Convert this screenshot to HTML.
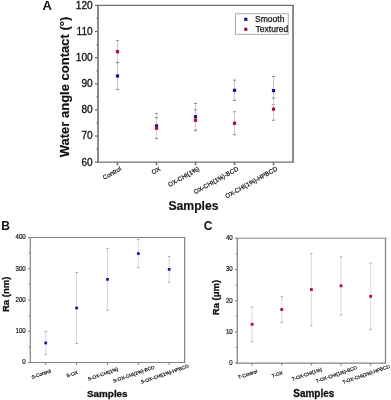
<!DOCTYPE html>
<html><head><meta charset="utf-8"><style>
html,body{margin:0;padding:0;background:#fff;width:391px;height:400px;overflow:hidden}
svg{display:block;font-family:"Liberation Sans", sans-serif;filter:blur(0.3px)}
</style></head><body>
<svg width="391" height="400" viewBox="0 0 391 400">
<path d="M97.2 5.4H293.8M97.2 162.2H293.8" stroke="#707070" stroke-width="1.25" fill="none"/>
<path d="M98 5.4V162.2M293 5.4V162.2" stroke="#707070" stroke-width="1.6" fill="none"/>
<line x1="95" y1="162.20" x2="98" y2="162.20" stroke="#707070" stroke-width="1.25"/>
<text x="92.7" y="165.53" font-size="10.1" text-anchor="end" fill="#111" stroke="#111" stroke-width="0.3">60</text>
<line x1="95" y1="136.07" x2="98" y2="136.07" stroke="#707070" stroke-width="1.25"/>
<text x="92.7" y="139.40" font-size="10.1" text-anchor="end" fill="#111" stroke="#111" stroke-width="0.3">70</text>
<line x1="95" y1="109.93" x2="98" y2="109.93" stroke="#707070" stroke-width="1.25"/>
<text x="92.7" y="113.27" font-size="10.1" text-anchor="end" fill="#111" stroke="#111" stroke-width="0.3">80</text>
<line x1="95" y1="83.80" x2="98" y2="83.80" stroke="#707070" stroke-width="1.25"/>
<text x="92.7" y="87.13" font-size="10.1" text-anchor="end" fill="#111" stroke="#111" stroke-width="0.3">90</text>
<line x1="95" y1="57.67" x2="98" y2="57.67" stroke="#707070" stroke-width="1.25"/>
<text x="92.7" y="61.00" font-size="10.1" text-anchor="end" fill="#111" stroke="#111" stroke-width="0.3">100</text>
<line x1="95" y1="31.53" x2="98" y2="31.53" stroke="#707070" stroke-width="1.25"/>
<text x="92.7" y="34.87" font-size="10.1" text-anchor="end" fill="#111" stroke="#111" stroke-width="0.3">110</text>
<line x1="95" y1="5.40" x2="98" y2="5.40" stroke="#707070" stroke-width="1.25"/>
<text x="92.7" y="8.73" font-size="10.1" text-anchor="end" fill="#111" stroke="#111" stroke-width="0.3">120</text>
<line x1="96.5" y1="149.13" x2="98" y2="149.13" stroke="#707070" stroke-width="1.25"/>
<line x1="96.5" y1="123.00" x2="98" y2="123.00" stroke="#707070" stroke-width="1.25"/>
<line x1="96.5" y1="96.87" x2="98" y2="96.87" stroke="#707070" stroke-width="1.25"/>
<line x1="96.5" y1="70.73" x2="98" y2="70.73" stroke="#707070" stroke-width="1.25"/>
<line x1="96.5" y1="44.60" x2="98" y2="44.60" stroke="#707070" stroke-width="1.25"/>
<line x1="96.5" y1="18.47" x2="98" y2="18.47" stroke="#707070" stroke-width="1.25"/>
<line x1="117.50" y1="162.2" x2="117.50" y2="165.2" stroke="#707070" stroke-width="1.6"/>
<text transform="translate(121.80,170.20) rotate(-29)" font-size="6.2" text-anchor="end" fill="#111" stroke="#111" stroke-width="0.2">Control</text>
<line x1="156.50" y1="162.2" x2="156.50" y2="165.2" stroke="#707070" stroke-width="1.6"/>
<text transform="translate(160.80,170.20) rotate(-29)" font-size="6.2" text-anchor="end" fill="#111" stroke="#111" stroke-width="0.2">OX</text>
<line x1="195.50" y1="162.2" x2="195.50" y2="165.2" stroke="#707070" stroke-width="1.6"/>
<text transform="translate(199.80,170.20) rotate(-29)" font-size="6.2" text-anchor="end" fill="#111" stroke="#111" stroke-width="0.2">OX-CHI(1%)</text>
<line x1="234.50" y1="162.2" x2="234.50" y2="165.2" stroke="#707070" stroke-width="1.6"/>
<text transform="translate(238.80,170.20) rotate(-29)" font-size="6.2" text-anchor="end" fill="#111" stroke="#111" stroke-width="0.2">OX-CHI(1%)-BCD</text>
<line x1="273.50" y1="162.2" x2="273.50" y2="165.2" stroke="#707070" stroke-width="1.6"/>
<text transform="translate(277.80,170.20) rotate(-29)" font-size="6.2" text-anchor="end" fill="#111" stroke="#111" stroke-width="0.2">OX-CHI(1%)-HPBCD</text>
<line x1="117.50" y1="62.37" x2="117.50" y2="89.55" stroke="#c4c4d4" stroke-width="1.0"/>
<line x1="116.00" y1="62.37" x2="119.00" y2="62.37" stroke="#8a8a8a" stroke-width="1"/>
<line x1="116.00" y1="89.55" x2="119.00" y2="89.55" stroke="#8a8a8a" stroke-width="1"/>
<line x1="117.50" y1="40.68" x2="117.50" y2="62.63" stroke="#dcc4cc" stroke-width="1.0"/>
<line x1="116.00" y1="40.68" x2="119.00" y2="40.68" stroke="#8a8a8a" stroke-width="1"/>
<line x1="116.00" y1="62.63" x2="119.00" y2="62.63" stroke="#8a8a8a" stroke-width="1"/>
<line x1="156.50" y1="113.33" x2="156.50" y2="138.42" stroke="#c4c4d4" stroke-width="1.0"/>
<line x1="155.00" y1="113.33" x2="158.00" y2="113.33" stroke="#8a8a8a" stroke-width="1"/>
<line x1="155.00" y1="138.42" x2="158.00" y2="138.42" stroke="#8a8a8a" stroke-width="1"/>
<line x1="156.50" y1="117.77" x2="156.50" y2="138.68" stroke="#dcc4cc" stroke-width="1.0"/>
<line x1="155.00" y1="117.77" x2="158.00" y2="117.77" stroke="#8a8a8a" stroke-width="1"/>
<line x1="155.00" y1="138.68" x2="158.00" y2="138.68" stroke="#8a8a8a" stroke-width="1"/>
<line x1="195.50" y1="103.40" x2="195.50" y2="130.06" stroke="#c4c4d4" stroke-width="1.0"/>
<line x1="194.00" y1="103.40" x2="197.00" y2="103.40" stroke="#8a8a8a" stroke-width="1"/>
<line x1="194.00" y1="130.06" x2="197.00" y2="130.06" stroke="#8a8a8a" stroke-width="1"/>
<line x1="195.50" y1="109.80" x2="195.50" y2="130.71" stroke="#dcc4cc" stroke-width="1.0"/>
<line x1="194.00" y1="109.80" x2="197.00" y2="109.80" stroke="#8a8a8a" stroke-width="1"/>
<line x1="194.00" y1="130.71" x2="197.00" y2="130.71" stroke="#8a8a8a" stroke-width="1"/>
<line x1="234.50" y1="80.14" x2="234.50" y2="100.53" stroke="#c4c4d4" stroke-width="1.0"/>
<line x1="233.00" y1="80.14" x2="236.00" y2="80.14" stroke="#8a8a8a" stroke-width="1"/>
<line x1="233.00" y1="100.53" x2="236.00" y2="100.53" stroke="#8a8a8a" stroke-width="1"/>
<line x1="234.50" y1="111.76" x2="234.50" y2="134.76" stroke="#dcc4cc" stroke-width="1.0"/>
<line x1="233.00" y1="111.76" x2="236.00" y2="111.76" stroke="#8a8a8a" stroke-width="1"/>
<line x1="233.00" y1="134.76" x2="236.00" y2="134.76" stroke="#8a8a8a" stroke-width="1"/>
<line x1="273.50" y1="76.48" x2="273.50" y2="104.71" stroke="#c4c4d4" stroke-width="1.0"/>
<line x1="272.00" y1="76.48" x2="275.00" y2="76.48" stroke="#8a8a8a" stroke-width="1"/>
<line x1="272.00" y1="104.71" x2="275.00" y2="104.71" stroke="#8a8a8a" stroke-width="1"/>
<line x1="273.50" y1="98.04" x2="273.50" y2="120.26" stroke="#dcc4cc" stroke-width="1.0"/>
<line x1="272.00" y1="98.04" x2="275.00" y2="98.04" stroke="#8a8a8a" stroke-width="1"/>
<line x1="272.00" y1="120.26" x2="275.00" y2="120.26" stroke="#8a8a8a" stroke-width="1"/>
<rect x="115.90" y="74.36" width="3.2" height="3.2" fill="#12129c"/>
<rect x="115.90" y="50.06" width="3.2" height="3.2" fill="#b0102a"/>
<rect x="154.90" y="124.27" width="3.2" height="3.2" fill="#12129c"/>
<rect x="154.90" y="126.63" width="3.2" height="3.2" fill="#b0102a"/>
<rect x="193.90" y="115.13" width="3.2" height="3.2" fill="#12129c"/>
<rect x="193.90" y="118.66" width="3.2" height="3.2" fill="#b0102a"/>
<rect x="232.90" y="88.73" width="3.2" height="3.2" fill="#12129c"/>
<rect x="232.90" y="121.66" width="3.2" height="3.2" fill="#b0102a"/>
<rect x="271.90" y="88.99" width="3.2" height="3.2" fill="#12129c"/>
<rect x="271.90" y="107.55" width="3.2" height="3.2" fill="#b0102a"/>
<text transform="translate(69,87) rotate(-90)" font-size="13" font-weight="bold" text-anchor="middle" fill="#111" stroke="#111" stroke-width="0.15">Water angle contact (°)</text>
<text x="193.5" y="210.4" font-size="12.2" font-weight="bold" text-anchor="middle" fill="#111" stroke="#111" stroke-width="0.15">Samples</text>
<text x="42.6" y="10" font-size="13" font-weight="bold" fill="#111">A</text>
<rect x="235.5" y="13.8" width="52.7" height="20.5" fill="#fff" stroke="#999" stroke-width="0.8"/>
<rect x="244.2" y="17.7" width="3.2" height="3.2" fill="#12129c"/>
<rect x="244.2" y="27.7" width="3.2" height="3.2" fill="#b0102a"/>
<text x="255" y="22.3" font-size="9.3" textLength="29.4" lengthAdjust="spacingAndGlyphs" fill="#111" stroke="#111" stroke-width="0.25">Smooth</text>
<text x="255.6" y="32.3" font-size="9.3" textLength="32.6" lengthAdjust="spacingAndGlyphs" fill="#111" stroke="#111" stroke-width="0.25">Textured</text>
<path d="M29.5 237.5H185.4M29.5 362.5H185.4" stroke="#858585" stroke-width="1.1" fill="none"/>
<path d="M30.3 237.5V362.5M184.6 237.5V362.5" stroke="#858585" stroke-width="1.25" fill="none"/>
<line x1="28.0" y1="362.50" x2="30.3" y2="362.50" stroke="#858585" stroke-width="1.1"/>
<text x="25.700000000000003" y="364.43" font-size="6.9" text-anchor="end" fill="#111" stroke="#111" stroke-width="0.2" textLength="3.40" lengthAdjust="spacingAndGlyphs">0</text>
<line x1="28.0" y1="331.25" x2="30.3" y2="331.25" stroke="#858585" stroke-width="1.1"/>
<text x="25.700000000000003" y="333.18" font-size="6.9" text-anchor="end" fill="#111" stroke="#111" stroke-width="0.2" textLength="10.20" lengthAdjust="spacingAndGlyphs">100</text>
<line x1="28.0" y1="300.00" x2="30.3" y2="300.00" stroke="#858585" stroke-width="1.1"/>
<text x="25.700000000000003" y="301.93" font-size="6.9" text-anchor="end" fill="#111" stroke="#111" stroke-width="0.2" textLength="10.20" lengthAdjust="spacingAndGlyphs">200</text>
<line x1="28.0" y1="268.75" x2="30.3" y2="268.75" stroke="#858585" stroke-width="1.1"/>
<text x="25.700000000000003" y="270.68" font-size="6.9" text-anchor="end" fill="#111" stroke="#111" stroke-width="0.2" textLength="10.20" lengthAdjust="spacingAndGlyphs">300</text>
<line x1="28.0" y1="237.50" x2="30.3" y2="237.50" stroke="#858585" stroke-width="1.1"/>
<text x="25.700000000000003" y="239.43" font-size="6.9" text-anchor="end" fill="#111" stroke="#111" stroke-width="0.2" textLength="10.20" lengthAdjust="spacingAndGlyphs">400</text>
<line x1="28.8" y1="346.88" x2="30.3" y2="346.88" stroke="#858585" stroke-width="1.1"/>
<line x1="28.8" y1="315.62" x2="30.3" y2="315.62" stroke="#858585" stroke-width="1.1"/>
<line x1="28.8" y1="284.38" x2="30.3" y2="284.38" stroke="#858585" stroke-width="1.1"/>
<line x1="28.8" y1="253.12" x2="30.3" y2="253.12" stroke="#858585" stroke-width="1.1"/>
<line x1="45.73" y1="362.5" x2="45.73" y2="364.8" stroke="#858585" stroke-width="1.25"/>
<text transform="translate(41.23,374.00) rotate(-19)" y="1.68" font-size="4.8" text-anchor="middle" fill="#111" stroke="#111" stroke-width="0.2">S-Control</text>
<line x1="76.59" y1="362.5" x2="76.59" y2="364.8" stroke="#858585" stroke-width="1.25"/>
<text transform="translate(72.09,374.00) rotate(-19)" y="1.68" font-size="4.8" text-anchor="middle" fill="#111" stroke="#111" stroke-width="0.2">S-OX</text>
<line x1="107.45" y1="362.5" x2="107.45" y2="364.8" stroke="#858585" stroke-width="1.25"/>
<text transform="translate(102.95,374.00) rotate(-19)" y="1.68" font-size="4.8" text-anchor="middle" fill="#111" stroke="#111" stroke-width="0.2">S-OX-CHI(1%)</text>
<line x1="138.31" y1="362.5" x2="138.31" y2="364.8" stroke="#858585" stroke-width="1.25"/>
<text transform="translate(133.81,374.00) rotate(-19)" y="1.68" font-size="4.8" text-anchor="middle" fill="#111" stroke="#111" stroke-width="0.2">S-OX-CHI(1%)-BCD</text>
<line x1="169.17" y1="362.5" x2="169.17" y2="364.8" stroke="#858585" stroke-width="1.25"/>
<text transform="translate(164.67,374.00) rotate(-19)" y="1.68" font-size="4.8" text-anchor="middle" fill="#111" stroke="#111" stroke-width="0.2">S-OX-CHI(1%)-HPBCD</text>
<line x1="45.73" y1="331.41" x2="45.73" y2="354.53" stroke="#c8c8e8" stroke-width="0.8"/>
<line x1="44.63" y1="331.41" x2="46.83" y2="331.41" stroke="#a0a0a0" stroke-width="1"/>
<line x1="44.63" y1="354.53" x2="46.83" y2="354.53" stroke="#a0a0a0" stroke-width="1"/>
<line x1="76.59" y1="272.50" x2="76.59" y2="343.50" stroke="#c8c8e8" stroke-width="0.8"/>
<line x1="75.49" y1="272.50" x2="77.69" y2="272.50" stroke="#a0a0a0" stroke-width="1"/>
<line x1="75.49" y1="343.50" x2="77.69" y2="343.50" stroke="#a0a0a0" stroke-width="1"/>
<line x1="107.45" y1="248.44" x2="107.45" y2="310.31" stroke="#c8c8e8" stroke-width="0.8"/>
<line x1="106.35" y1="248.44" x2="108.55" y2="248.44" stroke="#a0a0a0" stroke-width="1"/>
<line x1="106.35" y1="310.31" x2="108.55" y2="310.31" stroke="#a0a0a0" stroke-width="1"/>
<line x1="138.31" y1="239.53" x2="138.31" y2="267.66" stroke="#c8c8e8" stroke-width="0.8"/>
<line x1="137.21" y1="239.53" x2="139.41" y2="239.53" stroke="#a0a0a0" stroke-width="1"/>
<line x1="137.21" y1="267.66" x2="139.41" y2="267.66" stroke="#a0a0a0" stroke-width="1"/>
<line x1="169.17" y1="256.56" x2="169.17" y2="282.19" stroke="#c8c8e8" stroke-width="0.8"/>
<line x1="168.07" y1="256.56" x2="170.27" y2="256.56" stroke="#a0a0a0" stroke-width="1"/>
<line x1="168.07" y1="282.19" x2="170.27" y2="282.19" stroke="#a0a0a0" stroke-width="1"/>
<rect x="44.38" y="341.62" width="2.7" height="2.7" fill="#12129c"/>
<rect x="75.24" y="306.65" width="2.7" height="2.7" fill="#12129c"/>
<rect x="106.10" y="278.02" width="2.7" height="2.7" fill="#12129c"/>
<rect x="136.96" y="252.24" width="2.7" height="2.7" fill="#12129c"/>
<rect x="167.82" y="268.02" width="2.7" height="2.7" fill="#12129c"/>
<text transform="translate(9,294.3) rotate(-90)" font-size="9.5" font-weight="bold" text-anchor="middle" fill="#111" stroke="#111" stroke-width="0.3">Ra (nm)</text>
<text x="107.3" y="396.7" font-size="9.9" font-weight="bold" text-anchor="middle" fill="#111" stroke="#111" stroke-width="0.3">Samples</text>
<text x="1.2" y="230.2" font-size="12" font-weight="bold" fill="#111">B</text>
<path d="M236.5 238.3H386.3M236.5 363.1H386.3" stroke="#858585" stroke-width="1.1" fill="none"/>
<path d="M237.3 238.3V363.1M385.5 238.3V363.1" stroke="#858585" stroke-width="1.25" fill="none"/>
<line x1="235.0" y1="363.10" x2="237.3" y2="363.10" stroke="#858585" stroke-width="1.1"/>
<text x="232.70000000000002" y="365.03" font-size="6.9" text-anchor="end" fill="#111" stroke="#111" stroke-width="0.2" textLength="3.40" lengthAdjust="spacingAndGlyphs">0</text>
<line x1="235.0" y1="331.90" x2="237.3" y2="331.90" stroke="#858585" stroke-width="1.1"/>
<text x="232.70000000000002" y="333.83" font-size="6.9" text-anchor="end" fill="#111" stroke="#111" stroke-width="0.2" textLength="6.80" lengthAdjust="spacingAndGlyphs">10</text>
<line x1="235.0" y1="300.70" x2="237.3" y2="300.70" stroke="#858585" stroke-width="1.1"/>
<text x="232.70000000000002" y="302.63" font-size="6.9" text-anchor="end" fill="#111" stroke="#111" stroke-width="0.2" textLength="6.80" lengthAdjust="spacingAndGlyphs">20</text>
<line x1="235.0" y1="269.50" x2="237.3" y2="269.50" stroke="#858585" stroke-width="1.1"/>
<text x="232.70000000000002" y="271.43" font-size="6.9" text-anchor="end" fill="#111" stroke="#111" stroke-width="0.2" textLength="6.80" lengthAdjust="spacingAndGlyphs">30</text>
<line x1="235.0" y1="238.30" x2="237.3" y2="238.30" stroke="#858585" stroke-width="1.1"/>
<text x="232.70000000000002" y="240.23" font-size="6.9" text-anchor="end" fill="#111" stroke="#111" stroke-width="0.2" textLength="6.80" lengthAdjust="spacingAndGlyphs">40</text>
<line x1="235.8" y1="347.50" x2="237.3" y2="347.50" stroke="#858585" stroke-width="1.1"/>
<line x1="235.8" y1="316.30" x2="237.3" y2="316.30" stroke="#858585" stroke-width="1.1"/>
<line x1="235.8" y1="285.10" x2="237.3" y2="285.10" stroke="#858585" stroke-width="1.1"/>
<line x1="235.8" y1="253.90" x2="237.3" y2="253.90" stroke="#858585" stroke-width="1.1"/>
<line x1="252.12" y1="363.1" x2="252.12" y2="365.40000000000003" stroke="#858585" stroke-width="1.25"/>
<text transform="translate(247.62,374.30) rotate(-19)" y="1.68" font-size="4.8" text-anchor="middle" fill="#111" stroke="#111" stroke-width="0.2">T-Control</text>
<line x1="281.76" y1="363.1" x2="281.76" y2="365.40000000000003" stroke="#858585" stroke-width="1.25"/>
<text transform="translate(277.26,374.30) rotate(-19)" y="1.68" font-size="4.8" text-anchor="middle" fill="#111" stroke="#111" stroke-width="0.2">T-OX</text>
<line x1="311.40" y1="363.1" x2="311.40" y2="365.40000000000003" stroke="#858585" stroke-width="1.25"/>
<text transform="translate(306.90,374.30) rotate(-19)" y="1.68" font-size="4.8" text-anchor="middle" fill="#111" stroke="#111" stroke-width="0.2">T-OX-CHI(1%)</text>
<line x1="341.04" y1="363.1" x2="341.04" y2="365.40000000000003" stroke="#858585" stroke-width="1.25"/>
<text transform="translate(336.54,374.30) rotate(-19)" y="1.68" font-size="4.8" text-anchor="middle" fill="#111" stroke="#111" stroke-width="0.2">T-OX-CHI(1%)-BCD</text>
<line x1="370.68" y1="363.1" x2="370.68" y2="365.40000000000003" stroke="#858585" stroke-width="1.25"/>
<text transform="translate(366.18,374.30) rotate(-19)" y="1.68" font-size="4.8" text-anchor="middle" fill="#111" stroke="#111" stroke-width="0.2">T-OX-CHI(1%)-HPBCD</text>
<line x1="252.12" y1="307.13" x2="252.12" y2="341.45" stroke="#e4c8cc" stroke-width="0.8"/>
<line x1="251.02" y1="307.13" x2="253.22" y2="307.13" stroke="#a0a0a0" stroke-width="1"/>
<line x1="251.02" y1="341.45" x2="253.22" y2="341.45" stroke="#a0a0a0" stroke-width="1"/>
<line x1="281.76" y1="296.58" x2="281.76" y2="322.48" stroke="#e4c8cc" stroke-width="0.8"/>
<line x1="280.66" y1="296.58" x2="282.86" y2="296.58" stroke="#a0a0a0" stroke-width="1"/>
<line x1="280.66" y1="322.48" x2="282.86" y2="322.48" stroke="#a0a0a0" stroke-width="1"/>
<line x1="311.40" y1="253.37" x2="311.40" y2="325.75" stroke="#e4c8cc" stroke-width="0.8"/>
<line x1="310.30" y1="253.37" x2="312.50" y2="253.37" stroke="#a0a0a0" stroke-width="1"/>
<line x1="310.30" y1="325.75" x2="312.50" y2="325.75" stroke="#a0a0a0" stroke-width="1"/>
<line x1="341.04" y1="256.83" x2="341.04" y2="314.86" stroke="#e4c8cc" stroke-width="0.8"/>
<line x1="339.94" y1="256.83" x2="342.14" y2="256.83" stroke="#a0a0a0" stroke-width="1"/>
<line x1="339.94" y1="314.86" x2="342.14" y2="314.86" stroke="#a0a0a0" stroke-width="1"/>
<line x1="370.68" y1="263.10" x2="370.68" y2="329.56" stroke="#e4c8cc" stroke-width="0.8"/>
<line x1="369.58" y1="263.10" x2="371.78" y2="263.10" stroke="#a0a0a0" stroke-width="1"/>
<line x1="369.58" y1="329.56" x2="371.78" y2="329.56" stroke="#a0a0a0" stroke-width="1"/>
<rect x="250.72" y="322.89" width="2.8" height="2.8" fill="#b0102a"/>
<rect x="280.36" y="308.13" width="2.8" height="2.8" fill="#b0102a"/>
<rect x="310.00" y="288.16" width="2.8" height="2.8" fill="#b0102a"/>
<rect x="339.64" y="284.45" width="2.8" height="2.8" fill="#b0102a"/>
<rect x="369.28" y="294.93" width="2.8" height="2.8" fill="#b0102a"/>
<text transform="translate(219,297.5) rotate(-90)" font-size="9.5" font-weight="bold" text-anchor="middle" fill="#111" stroke="#111" stroke-width="0.3">Ra (μm)</text>
<text x="313.8" y="396.6" font-size="10" font-weight="bold" text-anchor="middle" fill="#111" stroke="#111" stroke-width="0.3">Samples</text>
<text x="203.8" y="230.4" font-size="12" font-weight="bold" fill="#111">C</text>
</svg></body></html>
